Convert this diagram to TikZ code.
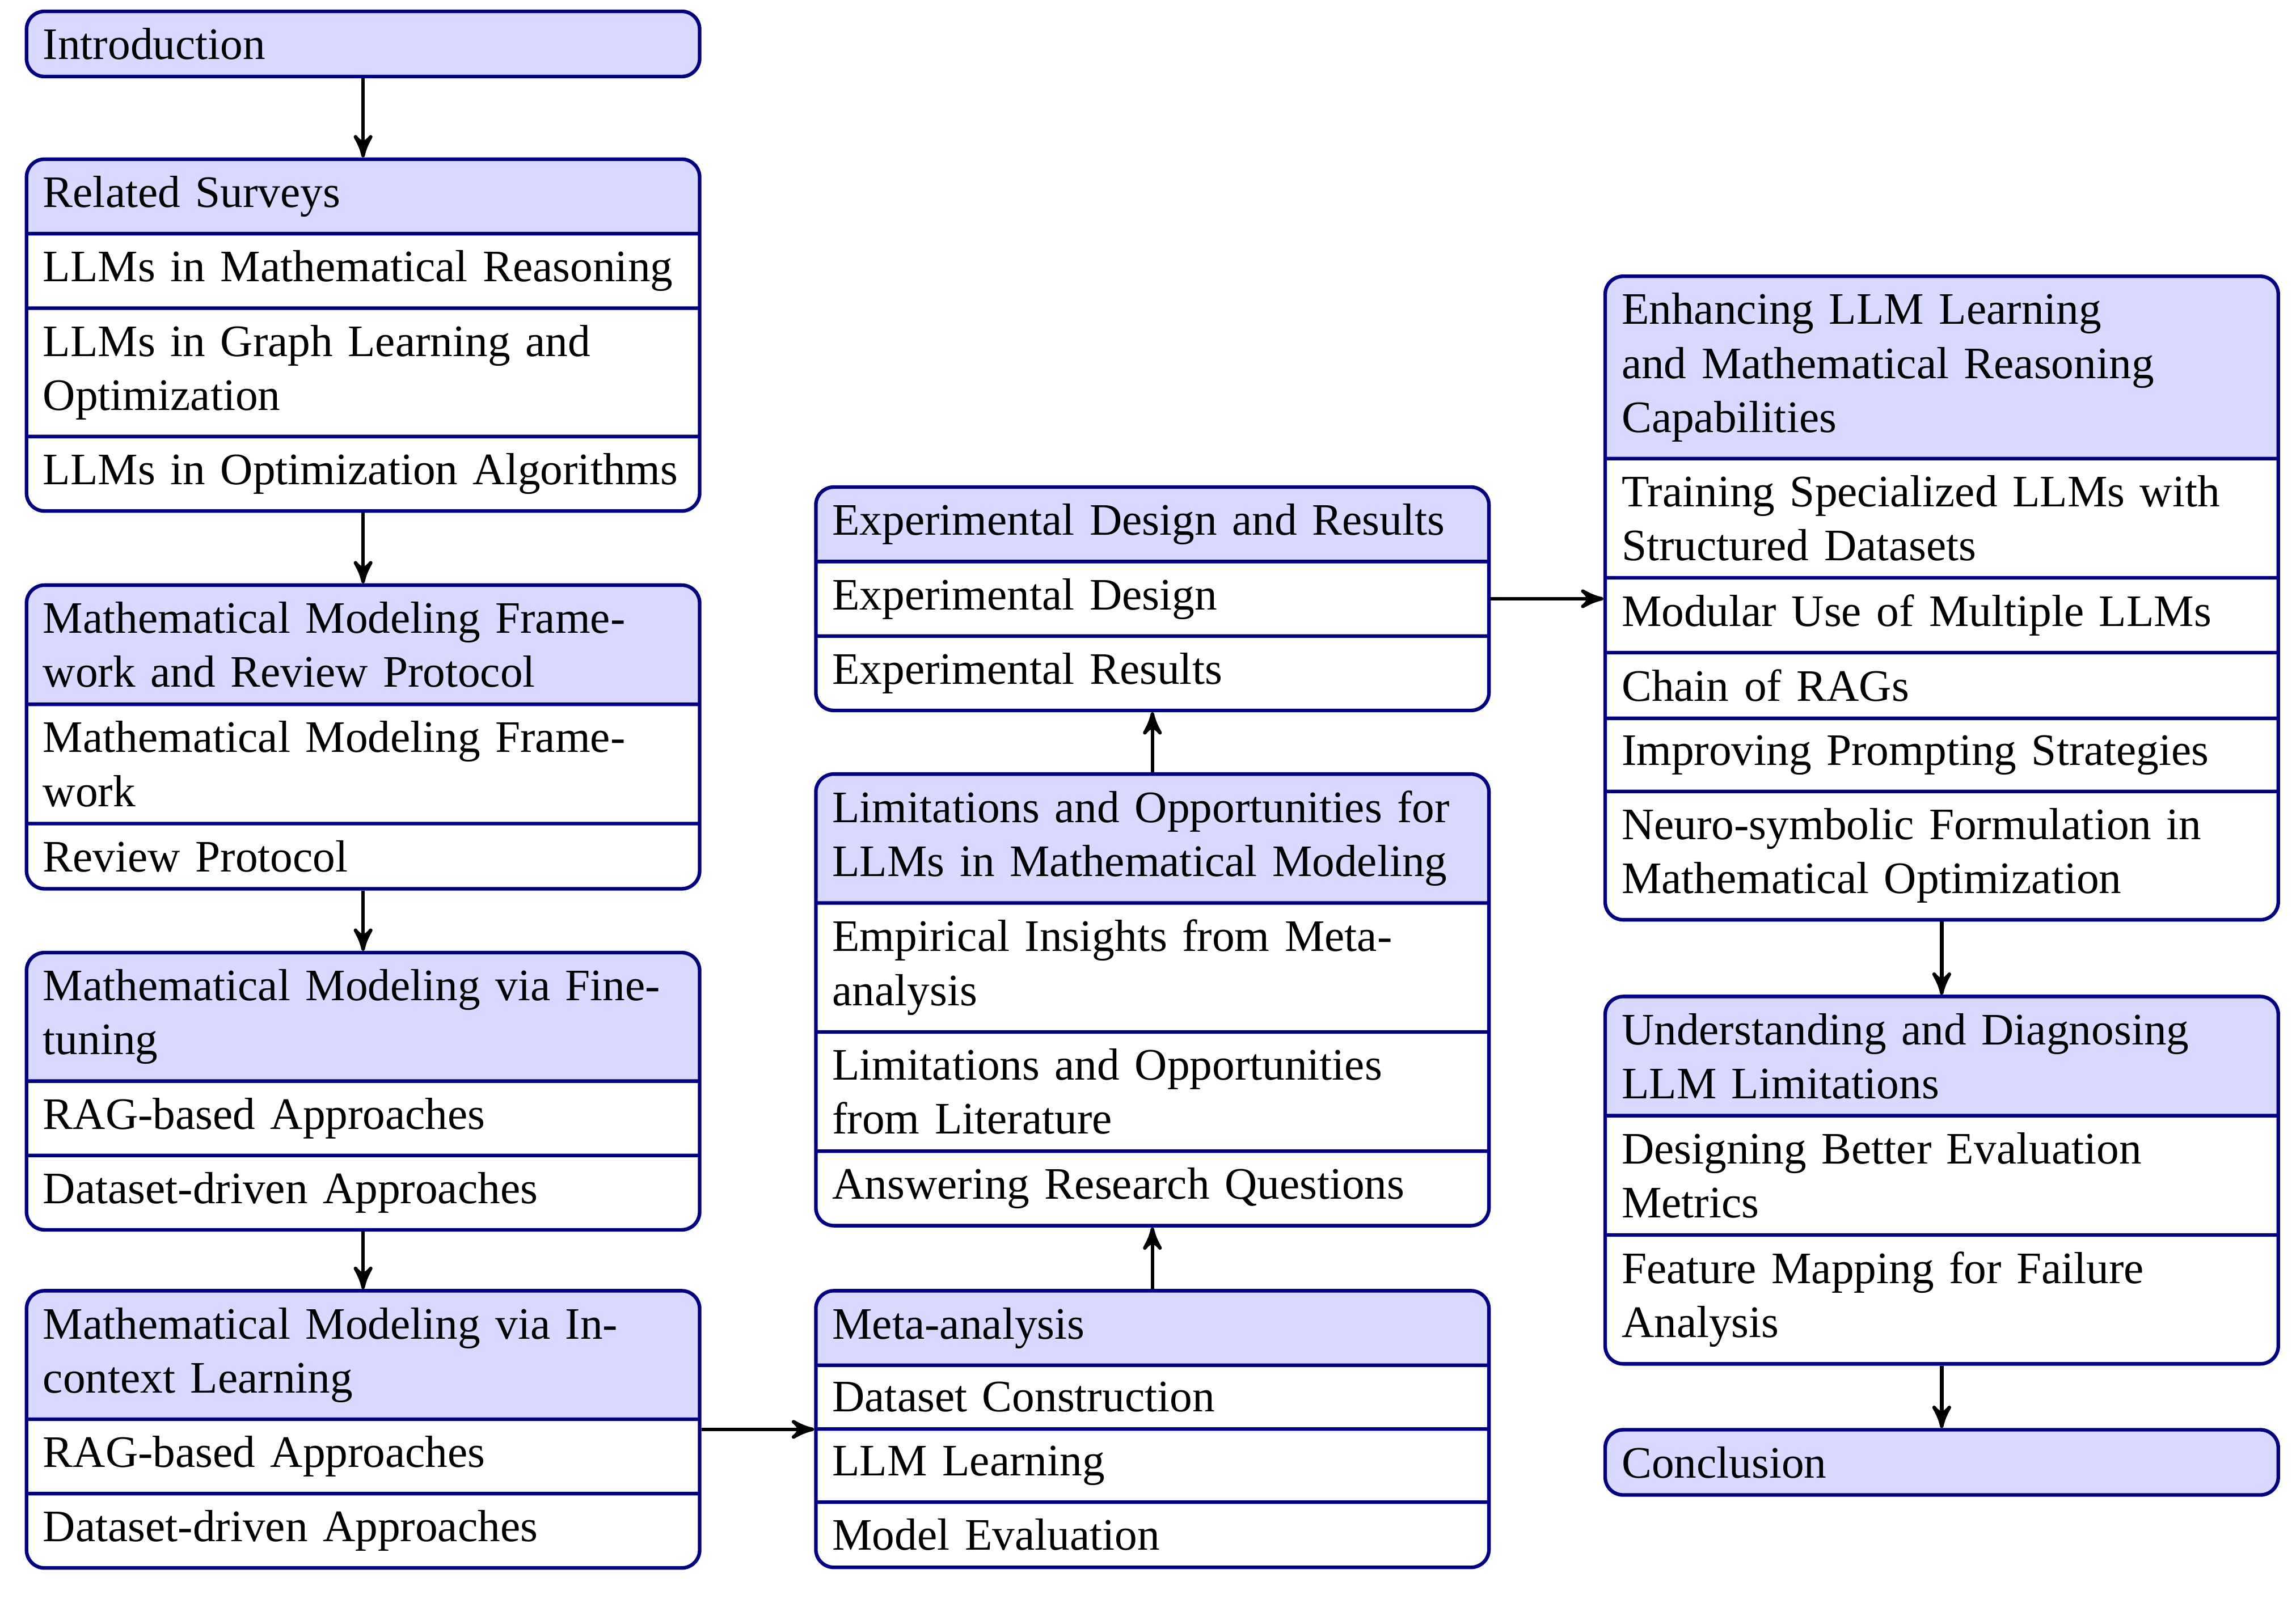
\documentclass[tikz,border=0pt]{standalone}
\usepackage{fontspec}
\setmainfont{Liberation Serif}
\usepackage{xcolor}
\usetikzlibrary{arrows,shapes.multipart}
\definecolor{secline}{RGB}{0,0,128}
\definecolor{secfill}{RGB}{217,217,255}
\hyphenation{Optimization Capabilities Metrics Analysis}

\begin{document}
\begin{tikzpicture}[
    sect/.style={rectangle split, rectangle split parts=#1, draw=secline, thick,
      rounded corners, text width=5cm, align=left, inner xsep=3.66pt,
      rectangle split part fill={secfill,white}},
    arr/.style={->, >=stealth', thick}]
        \useasboundingbox (-2.836,0.0745) rectangle (15.097,-12.415);
        % first column
        \node[sect=1, anchor=north] (intro) at (0,0) {Introduction};
        \node[sect=4, anchor=north] (rs) at (0,-1.155) {Related Surveys
            \nodepart{two} LLMs in Mathematical Reasoning
            \nodepart{three} LLMs in Graph Learning and Optimization
            \nodepart{four} LLMs in Optimization Algorithms};
        \node[sect=3, anchor=north] (mmf) at (0,-4.483) {Mathematical Modeling Framework and Review Protocol
            \nodepart{two} Mathematical Modeling Framework
            \nodepart{three} Review Protocol};
        \node[sect=3, anchor=north] (ft) at (0,-7.354) {Mathematical Modeling via Fine-tuning
            \nodepart{two} RAG-based Approaches
            \nodepart{three} Dataset-driven Approaches};
        \node[sect=3, anchor=north] (ic) at (0,-9.996) {Mathematical Modeling via In-context Learning
            \nodepart{two} RAG-based Approaches
            \nodepart{three} Dataset-driven Approaches};
        % second column
        \node[sect=4, anchor=north] (meta) at (6.165,-9.996) {Meta-analysis
            \nodepart{two} Dataset Construction
            \nodepart{three} LLM Learning
            \nodepart{four} Model Evaluation};
        \node[sect=4, anchor=north] (lim) at (6.165,-5.959) {Limitations and Opportunities for LLMs in Mathematical Modeling
            \nodepart{two} Empirical Insights from Meta-analysis
            \nodepart{three} Limitations and Opportunities from Literature
            \nodepart{four} Answering Research Questions};
        \node[sect=3, anchor=north] (exp) at (6.165,-3.717) {Experimental Design and Results
            \nodepart{two} Experimental Design
            \nodepart{three} Experimental Results};
        % third column
        \node[sect=6, anchor=north] (enh) at (12.33,-2.070) {Enhancing LLM Learning\\ and Mathematical Reasoning Capabilities
            \nodepart{two} Training Specialized LLMs with Structured Datasets
            \nodepart{three} Modular Use of Multiple LLMs
            \nodepart{four} Chain of RAGs
            \nodepart{five} Improving Prompting Strategies
            \nodepart{six} Neuro-symbolic Formulation in Mathematical Optimization};
        \node[sect=3, anchor=north] (und) at (12.33,-7.697) {Understanding and Diagnosing LLM Limitations
            \nodepart{two} Designing Better Evaluation Metrics
            \nodepart{three} Feature Mapping for Failure Analysis};
        \node[sect=1, anchor=north] (concl) at (12.33,-11.082) {Conclusion};
        % arrows
        \draw[arr] (intro) -- (rs);
        \draw[arr] (rs) -- (mmf);
        \draw[arr] (mmf) -- (ft);
        \draw[arr] (ft) -- (ic);
        \draw[arr] (ic.east) -- (ic.east -| meta.west);
        \draw[arr] (meta) -- (lim);
        \draw[arr] (lim) -- (exp);
        \draw[arr] (exp.east) -- (exp.east -| enh.west);
        \draw[arr] (enh) -- (und);
        \draw[arr] (und) -- (concl);
\end{tikzpicture}
\end{document}
